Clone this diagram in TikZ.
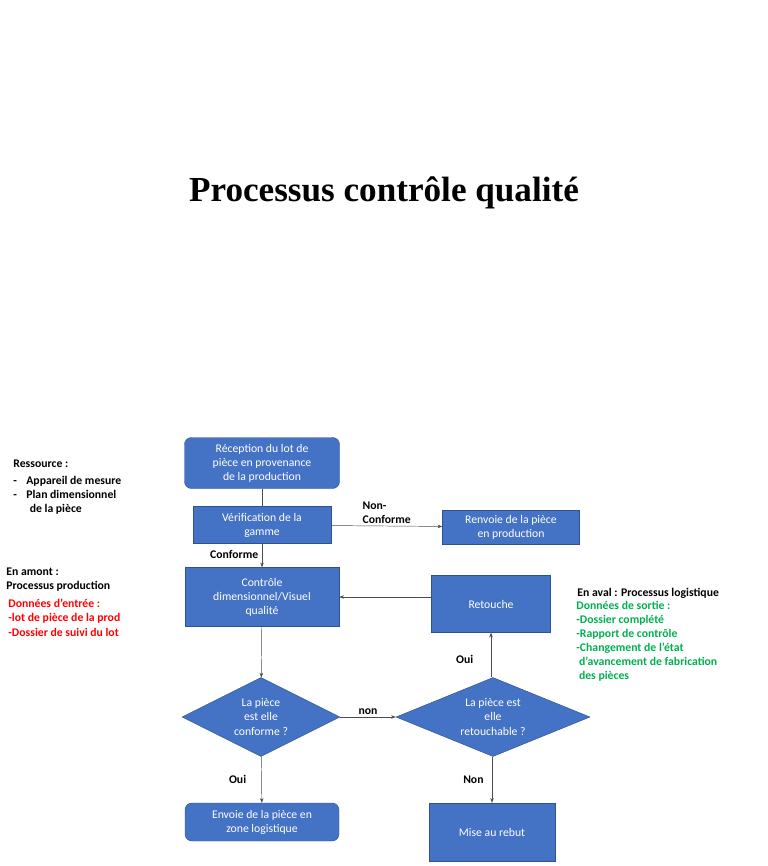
\documentclass[tikz,border=0pt]{standalone}
\usepackage{fontspec}
\setmainfont{Carlito}
\newfontfamily\titlefont{Liberation Serif}
\usetikzlibrary{shapes.geometric,arrows.meta}
\definecolor{bx}{HTML}{4472C4}
\definecolor{bd}{HTML}{2F528F}
\definecolor{gr}{HTML}{00B050}
\begin{document}
\begin{tikzpicture}[x=0.03cm,y=-0.03cm,
 box/.style={draw=bd,fill=bx,text=white,align=center,font=\fontsize{10}{12}\selectfont,inner sep=1pt},
 dia/.style={diamond,draw=bd,fill=bx,text=white,align=center,font=\fontsize{10}{12}\selectfont,aspect=2,inner sep=0pt},
 arr/.style={-{Stealth[length=4pt]},draw=black!70,thin},
 lab/.style={font=\bfseries\fontsize{10}{12}\selectfont,align=left,inner sep=1pt}]
\useasboundingbox (0,0) rectangle (768,866);
\node[font=\titlefont\bfseries\fontsize{30}{34}\selectfont] (title) at (384,193) {Processus contrôle qualité};
\node[box,rounded corners=6pt,minimum width=155*0.03cm,minimum height=51*0.03cm] (b1) at (262,463) {Réception du lot de\\pièce en provenance\\de la production};
\node[box,minimum width=138*0.03cm,minimum height=37*0.03cm] (b2) at (262,525) {Vérification de la\\gamme};
\node[box,minimum width=137*0.03cm,minimum height=34*0.03cm] (b3) at (511,527) {Renvoie de la pièce\\en production};
\node[box,minimum width=154*0.03cm,minimum height=59*0.03cm] (b4) at (262,597) {Contrôle\\dimensionnel/Visuel\\qualité};
\node[box,minimum width=119*0.03cm,minimum height=57*0.03cm] (b5) at (491,604) {Retouche};
\node[dia,minimum width=158*0.03cm,minimum height=79*0.03cm] (d1) at (261,717) {La pièce\\est elle\\conforme ?};
\node[dia,minimum width=194*0.03cm,minimum height=79*0.03cm] (d2) at (493,717) {La pièce est\\elle\\retouchable ?};
\node[box,rounded corners=6pt,minimum width=154*0.03cm,minimum height=38*0.03cm] (b6) at (262,822) {Envoie de la pièce en\\zone logistique};
\node[box,minimum width=126*0.03cm,minimum height=58*0.03cm] (b7) at (492,832) {Mise au rebut};
\draw[draw=black!70,thin] (b1) -- (b2);
\draw[arr] (b2) -- (b4) node[lab,pos=0.45,left=2pt] (l1) {Conforme};
\draw[arr] (b2) -- (b3) node[lab,midway,above=1pt] (l2) {Non-\\Conforme};
\draw[arr] (b5.west|-b4.east) -- (b4.east);
\draw[arr] (b4) -- (d1);
\draw[arr] (d1) -- (d2) node[lab,midway,above=1pt] (l3) {non};
\draw[arr] (d2.north-|b5.south) -- (b5.south) node[lab,pos=0.4,left=14pt] (l4) {Oui};
\draw[arr] (d2.south-|b7.north) -- (b7.north) node[lab,midway,left=6pt] (l5) {Non};
\draw[arr] (d1) -- (b6) node[lab,midway,left=12pt] (l6) {Oui};
\node[lab,anchor=north west] (res) at (12,458) {Ressource :};
\node[lab,anchor=north west] (res1) at (12,475) {-\hspace{8pt}Appareil de mesure\\-\hspace{8pt}Plan dimensionnel\\\hspace{14pt}de la pièce};
\node[lab,anchor=north west] (am) at (5,566) {En amont :\\Processus production};
\node[lab,anchor=north west,text=red] (amd) at (7,598) {Données d'entrée :\\-lot de pièce de la prod\\-Dossier de suivi du lot};
\node[lab,anchor=north west] (av) at (576,587) {En aval : Processus logistique};
\node[lab,anchor=north west,text=gr] (avd) at (575,600) {Données de sortie :\\-Dossier complété\\-Rapport de contrôle\\-Changement de l'état\\\ d'avancement de fabrication\\\ des pièces};
\end{tikzpicture}
\end{document}
